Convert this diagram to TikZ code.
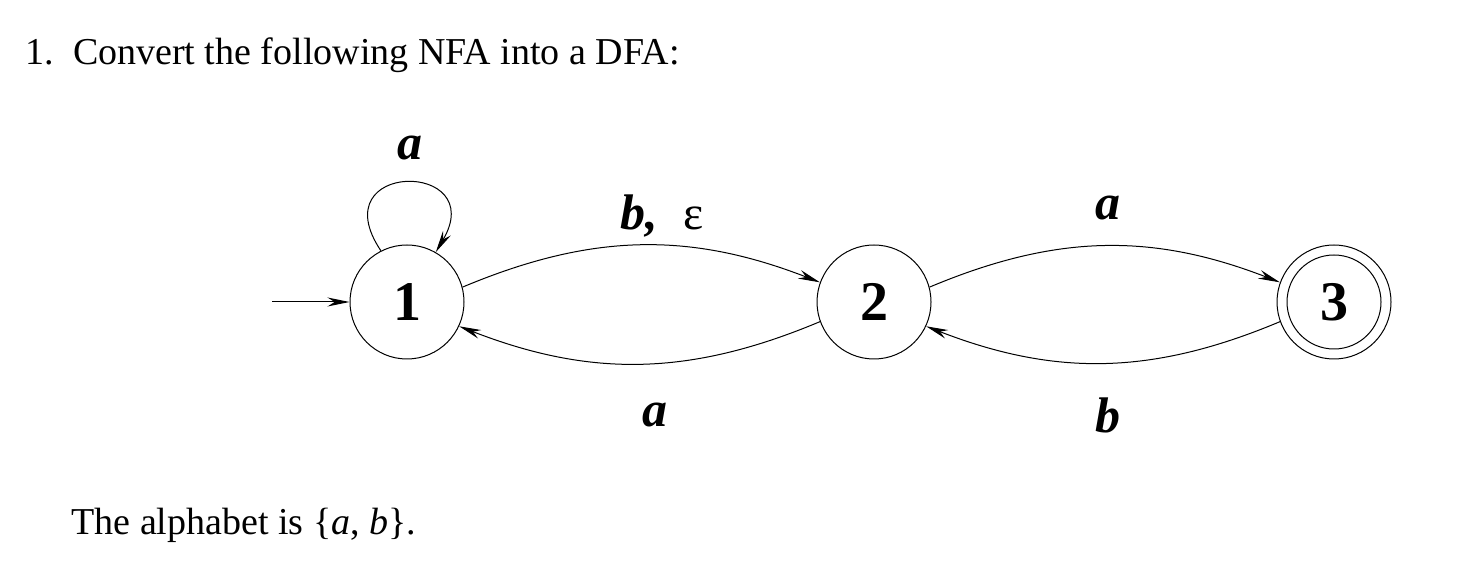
\documentclass[tikz,border=0pt]{standalone}
\usepackage{fontspec}
\setmainfont{Liberation Serif}
\usetikzlibrary{arrows.meta}
\begin{document}
\begin{tikzpicture}[x=1pt,y=1pt,
  st/.style={circle,draw,line width=1pt,minimum size=114pt,inner sep=0pt,font=\fontsize{56}{60}\selectfont\bfseries},
  ed/.style={line width=1pt,-{Stealth[length=22pt,width=9pt]}},
  lb/.style={font=\fontsize{50}{56}\selectfont\bfseries\itshape}]
\useasboundingbox (0,0) rectangle (1474,580);
\node[anchor=base west,font=\fontsize{38}{46}\selectfont] (t) at (22,515) {1.\ \ Convert the following NFA into a DFA:};
\node[st] (n1) at (407,278) {1};
\node[st] (n2) at (874,278) {2};
\node[st] (n3) at (1334,278) {3};
\node[circle,draw,line width=1pt,minimum size=94pt] (n3i) at (n3) {};
\coordinate (s) at (272,278);
\draw[ed] (s) -- (n1);
\draw[ed] (n1.117) .. controls (320,420) and (490,420) .. (n1.60);
\draw[ed] (n1.15) to[bend left=22] (n2.160);
\draw[ed] (n2.200) to[bend left=22] (n1.-25);
\draw[ed] (n2.15) to[bend left=22] (n3.160);
\draw[ed] (n3.200) to[bend left=22] (n2.-25);
\node[lb] (la) at (410,432) {a};
\node[lb] (lb1) at (662,364) {b,\ \ \normalfont\fontsize{48}{50}\selectfont ε};
\node[lb] (la2) at (655,165) {a};
\node[lb] (la3) at (1108,372) {a};
\node[lb] (lb2) at (1108,165) {b};
\node[anchor=base west,font=\fontsize{38}{46}\selectfont] (al) at (68,45) {The alphabet is \{\textit{a}, \textit{b}\}.};
\end{tikzpicture}
\end{document}
